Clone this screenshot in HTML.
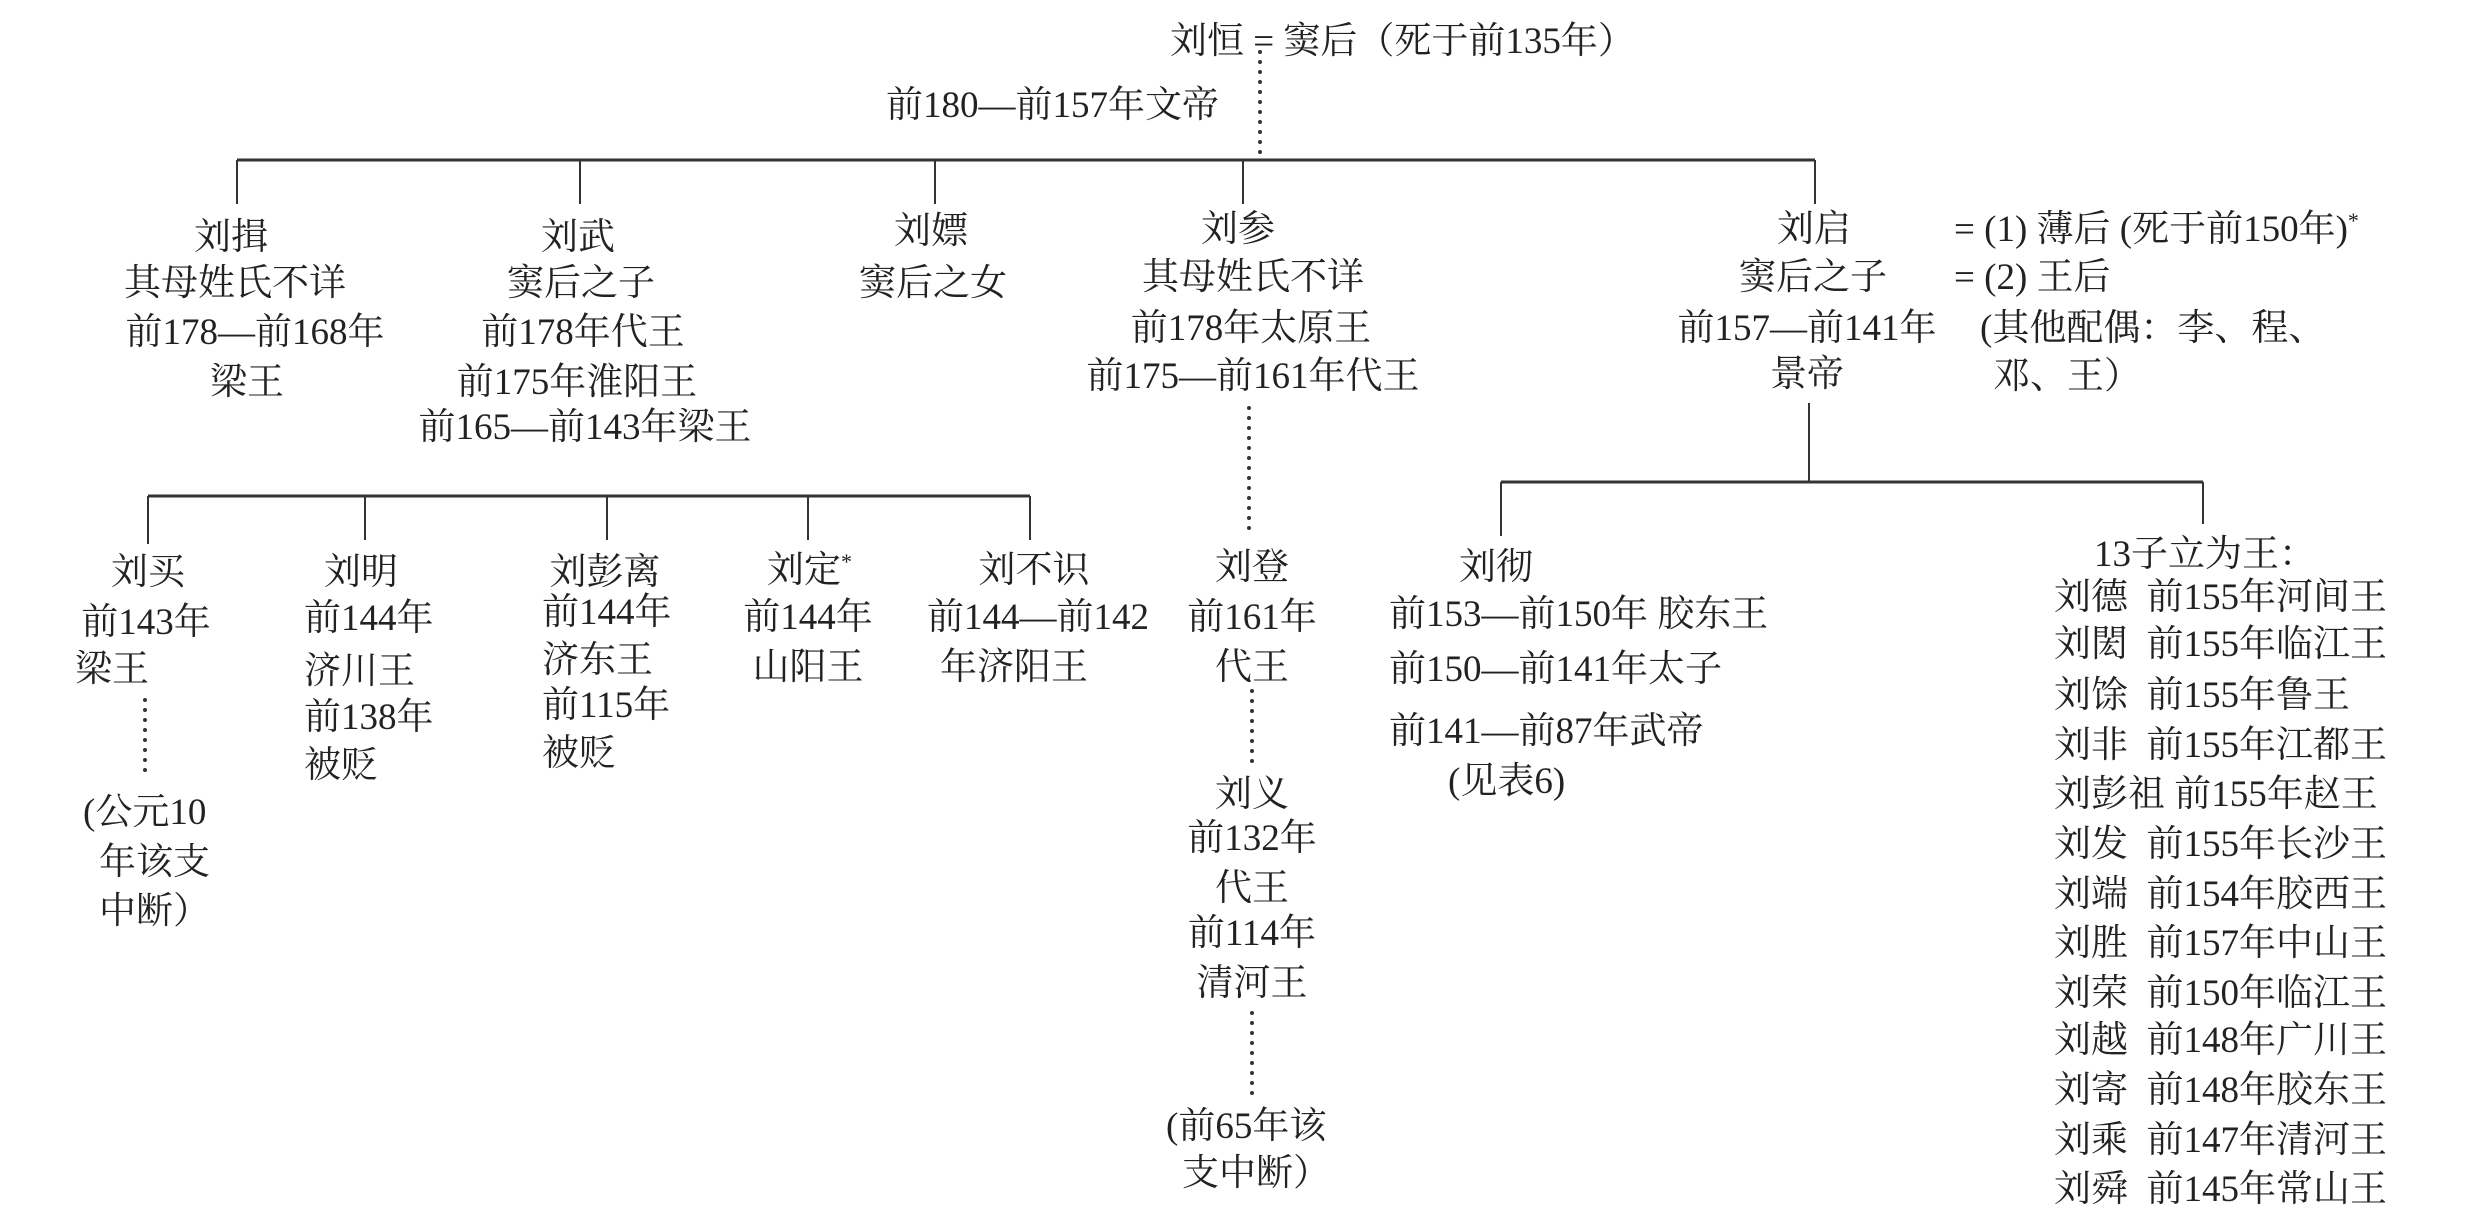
<!DOCTYPE html>
<html><head><meta charset="utf-8">
<style>
html,body{margin:0;padding:0;background:#fff;}
#w{position:relative;width:2473px;height:1222px;overflow:hidden;background:#fff;}
.t{position:absolute;font-family:"Liberation Serif","Noto Serif CJK SC",serif;font-size:37px;line-height:37px;color:#222;white-space:nowrap;}
.c{transform:translateX(-50%);}
sup{font-size:22px;vertical-align:top;line-height:20px;}
svg{position:absolute;left:0;top:0;}
</style></head><body><div id="w">
<svg width="2473" height="1222">
<g stroke="#333" fill="none">
<line x1="237" y1="160" x2="1815" y2="160" stroke-width="3"/>
<line x1="237" y1="160" x2="237" y2="204" stroke-width="2"/>
<line x1="580" y1="160" x2="580" y2="204" stroke-width="2"/>
<line x1="935" y1="160" x2="935" y2="204" stroke-width="2"/>
<line x1="1243" y1="160" x2="1243" y2="204" stroke-width="2"/>
<line x1="1815" y1="160" x2="1815" y2="204" stroke-width="2"/>
<line x1="148" y1="496" x2="1030" y2="496" stroke-width="3"/>
<line x1="148" y1="496" x2="148" y2="544" stroke-width="2"/>
<line x1="365" y1="496" x2="365" y2="540" stroke-width="2"/>
<line x1="607" y1="496" x2="607" y2="540" stroke-width="2"/>
<line x1="808" y1="496" x2="808" y2="540" stroke-width="2"/>
<line x1="1030" y1="496" x2="1030" y2="540" stroke-width="2"/>
<line x1="1809" y1="403" x2="1809" y2="482" stroke-width="2"/>
<line x1="1501" y1="482" x2="2203" y2="482" stroke-width="3"/>
<line x1="1501" y1="482" x2="1501" y2="536" stroke-width="2"/>
<line x1="2203" y1="482" x2="2203" y2="524" stroke-width="2"/>
</g>
<g stroke="#333" stroke-width="4" stroke-linecap="round" stroke-dasharray="0 10">
<line x1="1260" y1="52" x2="1260" y2="155"/>
<line x1="1249" y1="408" x2="1249" y2="538"/>
<line x1="145" y1="700" x2="145" y2="775"/>
<line x1="1252" y1="691" x2="1252" y2="765"/>
<line x1="1252" y1="1013" x2="1252" y2="1096"/>
</g>
</svg>

<div class="t" style="left:1170px;top:23px">刘恒 = 窦后（死于前135年）</div>
<div class="t" style="left:886px;top:87px">前180—前157年文帝</div>

<div class="t c" style="left:231px;top:219px">刘揖</div>
<div class="t c" style="left:235px;top:265px">其母姓氏不详</div>
<div class="t c" style="left:255px;top:314px">前178—前168年</div>
<div class="t c" style="left:247px;top:364px">梁王</div>

<div class="t c" style="left:578px;top:219px">刘武</div>
<div class="t c" style="left:581px;top:265px">窦后之子</div>
<div class="t c" style="left:583px;top:314px">前178年代王</div>
<div class="t c" style="left:577px;top:364px">前175年淮阳王</div>
<div class="t c" style="left:585px;top:409px">前165—前143年梁王</div>

<div class="t c" style="left:931px;top:213px">刘嫖</div>
<div class="t c" style="left:933px;top:265px">窦后之女</div>

<div class="t c" style="left:1238px;top:211px">刘参</div>
<div class="t c" style="left:1253px;top:259px">其母姓氏不详</div>
<div class="t c" style="left:1251px;top:310px">前178年太原王</div>
<div class="t c" style="left:1253px;top:358px">前175—前161年代王</div>

<div class="t c" style="left:1814px;top:211px">刘启</div>
<div class="t c" style="left:1813px;top:259px">窦后之子</div>
<div class="t c" style="left:1807px;top:310px">前157—前141年</div>
<div class="t c" style="left:1807px;top:356px">景帝</div>
<div class="t" style="left:1954px;top:211px">= (1) 薄后 (死于前150年)<sup>*</sup></div>
<div class="t" style="left:1954px;top:259px">= (2) 王后</div>
<div class="t" style="left:1980px;top:310px">(其他配偶：李、程、</div>
<div class="t" style="left:1993px;top:358px">邓、王）</div>

<div class="t c" style="left:148px;top:554px">刘买</div>
<div class="t c" style="left:146px;top:604px">前143年</div>
<div class="t" style="left:75px;top:651px">梁王</div>
<div class="t" style="left:83px;top:794px">(公元10</div>
<div class="t" style="left:99px;top:844px">年该支</div>
<div class="t" style="left:99px;top:893px">中断）</div>

<div class="t c" style="left:361px;top:554px">刘明</div>
<div class="t" style="left:304px;top:600px">前144年</div>
<div class="t" style="left:304px;top:653px">济川王</div>
<div class="t" style="left:304px;top:699px">前138年</div>
<div class="t" style="left:304px;top:747px">被贬</div>

<div class="t c" style="left:605px;top:554px">刘彭离</div>
<div class="t" style="left:542px;top:594px">前144年</div>
<div class="t" style="left:542px;top:642px">济东王</div>
<div class="t" style="left:542px;top:687px">前115年</div>
<div class="t" style="left:542px;top:735px">被贬</div>

<div class="t" style="left:767px;top:552px">刘定<sup>*</sup></div>
<div class="t c" style="left:808px;top:599px">前144年</div>
<div class="t c" style="left:808px;top:649px">山阳王</div>

<div class="t c" style="left:1034px;top:552px">刘不识</div>
<div class="t c" style="left:1038px;top:599px">前144—前142</div>
<div class="t c" style="left:1014px;top:649px">年济阳王</div>

<div class="t c" style="left:1252px;top:549px">刘登</div>
<div class="t c" style="left:1252px;top:599px">前161年</div>
<div class="t c" style="left:1252px;top:649px">代王</div>
<div class="t c" style="left:1252px;top:776px">刘义</div>
<div class="t c" style="left:1252px;top:820px">前132年</div>
<div class="t c" style="left:1252px;top:870px">代王</div>
<div class="t c" style="left:1252px;top:915px">前114年</div>
<div class="t c" style="left:1252px;top:965px">清河王</div>
<div class="t" style="left:1166px;top:1108px">(前65年该</div>
<div class="t" style="left:1182px;top:1155px">支中断）</div>

<div class="t c" style="left:1496px;top:549px">刘彻</div>
<div class="t" style="left:1389px;top:596px">前153—前150年 胶东王</div>
<div class="t" style="left:1389px;top:651px">前150—前141年太子</div>
<div class="t" style="left:1389px;top:713px">前141—前87年武帝</div>
<div class="t" style="left:1448px;top:763px">(见表6)</div>

<div class="t" style="left:2094px;top:536px">13子立为王：</div>
<div class="t" style="left:2054px;top:579px">刘德&nbsp;&nbsp;前155年河间王</div>
<div class="t" style="left:2054px;top:626px">刘閎&nbsp;&nbsp;前155年临江王</div>
<div class="t" style="left:2054px;top:677px">刘馀&nbsp;&nbsp;前155年鲁王</div>
<div class="t" style="left:2054px;top:727px">刘非&nbsp;&nbsp;前155年江都王</div>
<div class="t" style="left:2054px;top:776px">刘彭祖&nbsp;前155年赵王</div>
<div class="t" style="left:2054px;top:826px">刘发&nbsp;&nbsp;前155年长沙王</div>
<div class="t" style="left:2054px;top:876px">刘端&nbsp;&nbsp;前154年胶西王</div>
<div class="t" style="left:2054px;top:925px">刘胜&nbsp;&nbsp;前157年中山王</div>
<div class="t" style="left:2054px;top:975px">刘荣&nbsp;&nbsp;前150年临江王</div>
<div class="t" style="left:2054px;top:1022px">刘越&nbsp;&nbsp;前148年广川王</div>
<div class="t" style="left:2054px;top:1072px">刘寄&nbsp;&nbsp;前148年胶东王</div>
<div class="t" style="left:2054px;top:1122px">刘乘&nbsp;&nbsp;前147年清河王</div>
<div class="t" style="left:2054px;top:1171px">刘舜&nbsp;&nbsp;前145年常山王</div>
</div></body></html>
